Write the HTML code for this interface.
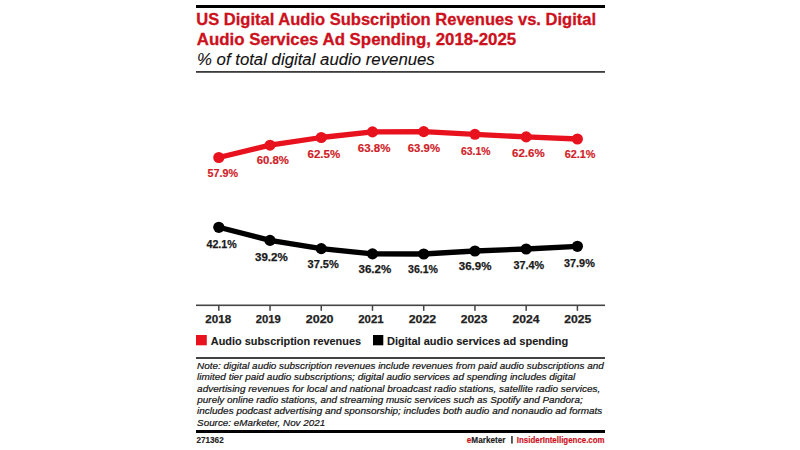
<!DOCTYPE html>
<html><head><meta charset="utf-8"><style>
html,body{margin:0;padding:0;background:#fff;}
body{width:800px;height:450px;overflow:hidden;}
svg{display:block;font-family:"Liberation Sans",sans-serif;}
</style></head><body>
<svg width="800" height="450" viewBox="0 0 800 450" font-family="Liberation Sans">
<rect x="196" y="5" width="409" height="3" fill="#000"/>
<rect x="196" y="71" width="409" height="1.8" fill="#3c3c3c"/>
<polyline fill="none" stroke="#e8121e" stroke-width="5.3" stroke-linejoin="round" points="218.80,157.50 270.03,145.20 321.26,137.50 372.49,131.90 423.72,131.60 474.95,134.30 526.18,136.90 577.41,139.00"/>
<g fill="#e8121e"><circle cx="218.80" cy="157.50" r="5.55"/><circle cx="270.03" cy="145.20" r="5.55"/><circle cx="321.26" cy="137.50" r="5.55"/><circle cx="372.49" cy="131.90" r="5.55"/><circle cx="423.72" cy="131.60" r="5.55"/><circle cx="474.95" cy="134.30" r="5.55"/><circle cx="526.18" cy="136.90" r="5.55"/><circle cx="577.41" cy="139.00" r="5.55"/></g>
<polyline fill="none" stroke="#000" stroke-width="5.3" stroke-linejoin="round" points="218.80,227.30 270.03,240.40 321.26,248.60 372.49,253.90 423.72,254.00 474.95,251.00 526.18,249.00 577.41,246.30"/>
<g fill="#000"><circle cx="218.80" cy="227.30" r="5.6"/><circle cx="270.03" cy="240.40" r="5.6"/><circle cx="321.26" cy="248.60" r="5.6"/><circle cx="372.49" cy="253.90" r="5.6"/><circle cx="423.72" cy="254.00" r="5.6"/><circle cx="474.95" cy="251.00" r="5.6"/><circle cx="526.18" cy="249.00" r="5.6"/><circle cx="577.41" cy="246.30" r="5.6"/></g>
<rect x="196" y="304.5" width="409" height="1.6" fill="#444"/>
<g fill="#444"><rect x="218.05" y="305" width="1.5" height="5.8"/><rect x="269.28" y="305" width="1.5" height="5.8"/><rect x="320.51" y="305" width="1.5" height="5.8"/><rect x="371.74" y="305" width="1.5" height="5.8"/><rect x="422.97" y="305" width="1.5" height="5.8"/><rect x="474.20" y="305" width="1.5" height="5.8"/><rect x="525.43" y="305" width="1.5" height="5.8"/><rect x="576.66" y="305" width="1.5" height="5.8"/></g>
<rect x="196" y="335" width="10.8" height="10.3" fill="#e8121e"/>
<rect x="373" y="335" width="10.3" height="10.3" fill="#000"/>
<rect x="196" y="357" width="409" height="2" fill="#444"/>
<rect x="196" y="430" width="409" height="3" fill="#000"/>
<rect x="511.2" y="436" width="1.5" height="7.6" fill="#2a2a2a"/>
<text x="196.30" y="25.30" font-size="16.5" font-weight="bold" font-style="normal" fill="#cc111c" stroke="#cc111c" stroke-width="0.3" textLength="399.75" lengthAdjust="spacingAndGlyphs">US Digital Audio Subscription Revenues vs. Digital</text><text x="196.80" y="44.50" font-size="16.5" font-weight="bold" font-style="normal" fill="#cc111c" stroke="#cc111c" stroke-width="0.3" textLength="319.40" lengthAdjust="spacingAndGlyphs">Audio Services Ad Spending, 2018-2025</text><text x="197.00" y="64.60" font-size="16" font-weight="normal" font-style="italic" fill="#111" stroke="#111" stroke-width="0.1" textLength="237.75" lengthAdjust="spacingAndGlyphs">% of total digital audio revenues</text><text x="207.50" y="176.90" font-size="11" font-weight="bold" font-style="normal" fill="#cf1d28" stroke="#cf1d28" stroke-width="0.18" textLength="30.50" lengthAdjust="spacingAndGlyphs">57.9%</text><text x="256.70" y="164.40" font-size="11" font-weight="bold" font-style="normal" fill="#cf1d28" stroke="#cf1d28" stroke-width="0.18" textLength="32.30" lengthAdjust="spacingAndGlyphs">60.8%</text><text x="307.50" y="157.50" font-size="11" font-weight="bold" font-style="normal" fill="#cf1d28" stroke="#cf1d28" stroke-width="0.18" textLength="32.75" lengthAdjust="spacingAndGlyphs">62.5%</text><text x="357.80" y="151.50" font-size="11" font-weight="bold" font-style="normal" fill="#cf1d28" stroke="#cf1d28" stroke-width="0.18" textLength="32.70" lengthAdjust="spacingAndGlyphs">63.8%</text><text x="407.80" y="152.10" font-size="11" font-weight="bold" font-style="normal" fill="#cf1d28" stroke="#cf1d28" stroke-width="0.18" textLength="32.20" lengthAdjust="spacingAndGlyphs">63.9%</text><text x="461.00" y="154.75" font-size="11" font-weight="bold" font-style="normal" fill="#cf1d28" stroke="#cf1d28" stroke-width="0.18" textLength="29.50" lengthAdjust="spacingAndGlyphs">63.1%</text><text x="512.00" y="156.90" font-size="11" font-weight="bold" font-style="normal" fill="#cf1d28" stroke="#cf1d28" stroke-width="0.18" textLength="32.70" lengthAdjust="spacingAndGlyphs">62.6%</text><text x="564.75" y="158.10" font-size="11" font-weight="bold" font-style="normal" fill="#cf1d28" stroke="#cf1d28" stroke-width="0.18" textLength="30.75" lengthAdjust="spacingAndGlyphs">62.1%</text><text x="206.50" y="247.75" font-size="11" font-weight="bold" font-style="normal" fill="#1a1a1a" stroke="#1a1a1a" stroke-width="0.25" textLength="30.25" lengthAdjust="spacingAndGlyphs">42.1%</text><text x="255.00" y="260.90" font-size="11" font-weight="bold" font-style="normal" fill="#1a1a1a" stroke="#1a1a1a" stroke-width="0.25" textLength="32.75" lengthAdjust="spacingAndGlyphs">39.2%</text><text x="307.50" y="268.10" font-size="11" font-weight="bold" font-style="normal" fill="#1a1a1a" stroke="#1a1a1a" stroke-width="0.25" textLength="31.25" lengthAdjust="spacingAndGlyphs">37.5%</text><text x="358.50" y="273.10" font-size="11" font-weight="bold" font-style="normal" fill="#1a1a1a" stroke="#1a1a1a" stroke-width="0.25" textLength="32.75" lengthAdjust="spacingAndGlyphs">36.2%</text><text x="408.05" y="273.10" font-size="11" font-weight="bold" font-style="normal" fill="#1a1a1a" stroke="#1a1a1a" stroke-width="0.25" textLength="29.95" lengthAdjust="spacingAndGlyphs">36.1%</text><text x="458.75" y="269.75" font-size="11" font-weight="bold" font-style="normal" fill="#1a1a1a" stroke="#1a1a1a" stroke-width="0.25" textLength="32.75" lengthAdjust="spacingAndGlyphs">36.9%</text><text x="513.50" y="268.75" font-size="11" font-weight="bold" font-style="normal" fill="#1a1a1a" stroke="#1a1a1a" stroke-width="0.25" textLength="30.75" lengthAdjust="spacingAndGlyphs">37.4%</text><text x="564.00" y="267.20" font-size="11" font-weight="bold" font-style="normal" fill="#1a1a1a" stroke="#1a1a1a" stroke-width="0.25" textLength="30.85" lengthAdjust="spacingAndGlyphs">37.9%</text><text x="205.30" y="323.00" font-size="11" font-weight="bold" font-style="normal" fill="#222" stroke="#222" stroke-width="0.25" textLength="25.90" lengthAdjust="spacingAndGlyphs">2018</text><text x="255.75" y="323.00" font-size="11" font-weight="bold" font-style="normal" fill="#222" stroke="#222" stroke-width="0.25" textLength="25.05" lengthAdjust="spacingAndGlyphs">2019</text><text x="305.75" y="323.00" font-size="11" font-weight="bold" font-style="normal" fill="#222" stroke="#222" stroke-width="0.25" textLength="27.80" lengthAdjust="spacingAndGlyphs">2020</text><text x="358.25" y="323.00" font-size="11" font-weight="bold" font-style="normal" fill="#222" stroke="#222" stroke-width="0.25" textLength="25.50" lengthAdjust="spacingAndGlyphs">2021</text><text x="408.75" y="323.00" font-size="11" font-weight="bold" font-style="normal" fill="#222" stroke="#222" stroke-width="0.25" textLength="27.50" lengthAdjust="spacingAndGlyphs">2022</text><text x="460.75" y="323.00" font-size="11" font-weight="bold" font-style="normal" fill="#222" stroke="#222" stroke-width="0.25" textLength="26.75" lengthAdjust="spacingAndGlyphs">2023</text><text x="512.50" y="323.00" font-size="11" font-weight="bold" font-style="normal" fill="#222" stroke="#222" stroke-width="0.25" textLength="26.95" lengthAdjust="spacingAndGlyphs">2024</text><text x="564.35" y="323.00" font-size="11" font-weight="bold" font-style="normal" fill="#222" stroke="#222" stroke-width="0.25" textLength="27.00" lengthAdjust="spacingAndGlyphs">2025</text><text x="210.75" y="344.75" font-size="10.85" font-weight="bold" font-style="normal" fill="#1a1a1a" stroke="#1a1a1a" stroke-width="0.1" textLength="150.30" lengthAdjust="spacingAndGlyphs">Audio subscription revenues</text><text x="387.00" y="344.75" font-size="10.85" font-weight="bold" font-style="normal" fill="#1a1a1a" stroke="#1a1a1a" stroke-width="0.1" textLength="181.25" lengthAdjust="spacingAndGlyphs">Digital audio services ad spending</text><text x="197.10" y="368.90" font-size="9.9" font-weight="normal" font-style="italic" fill="#111" stroke="#111" stroke-width="0.2" textLength="406.70" lengthAdjust="spacingAndGlyphs">Note: digital audio subscription revenues include revenues from paid audio subscriptions and</text><text x="197.10" y="380.24" font-size="9.9" font-weight="normal" font-style="italic" fill="#111" stroke="#111" stroke-width="0.2" textLength="378.15" lengthAdjust="spacingAndGlyphs">limited tier paid audio subscriptions; digital audio services ad spending includes digital</text><text x="197.10" y="391.58" font-size="9.9" font-weight="normal" font-style="italic" fill="#111" stroke="#111" stroke-width="0.2" textLength="403.20" lengthAdjust="spacingAndGlyphs">advertising revenues for local and national broadcast radio stations, satellite radio services,</text><text x="197.35" y="402.92" font-size="9.9" font-weight="normal" font-style="italic" fill="#111" stroke="#111" stroke-width="0.2" textLength="385.30" lengthAdjust="spacingAndGlyphs">purely online radio stations, and streaming music services such as Spotify and Pandora;</text><text x="197.10" y="414.26" font-size="9.9" font-weight="normal" font-style="italic" fill="#111" stroke="#111" stroke-width="0.2" textLength="405.25" lengthAdjust="spacingAndGlyphs">includes podcast advertising and sponsorship; includes both audio and nonaudio ad formats</text><text x="197.10" y="425.60" font-size="9.9" font-weight="normal" font-style="italic" fill="#111" stroke="#111" stroke-width="0.2" textLength="128.10" lengthAdjust="spacingAndGlyphs">Source: eMarketer, Nov 2021</text><text x="196.55" y="442.70" font-size="8.3" font-weight="bold" font-style="normal" fill="#222" stroke="#222" stroke-width="0.15" textLength="27.10" lengthAdjust="spacingAndGlyphs">271362</text><text x="466.75" y="443.00" font-size="8.3" font-weight="bold" font-style="normal" fill="#222" stroke="#222" stroke-width="0.15" textLength="38.75" lengthAdjust="spacingAndGlyphs"><tspan fill="#cc111c" stroke="#cc111c">e</tspan>Marketer</text><text x="516.85" y="442.80" font-size="8.5" font-weight="bold" font-style="normal" fill="#cc111c" stroke="#cc111c" stroke-width="0.15" textLength="87.75" lengthAdjust="spacingAndGlyphs">InsiderIntelligence.com</text>
</svg>
</body></html>
